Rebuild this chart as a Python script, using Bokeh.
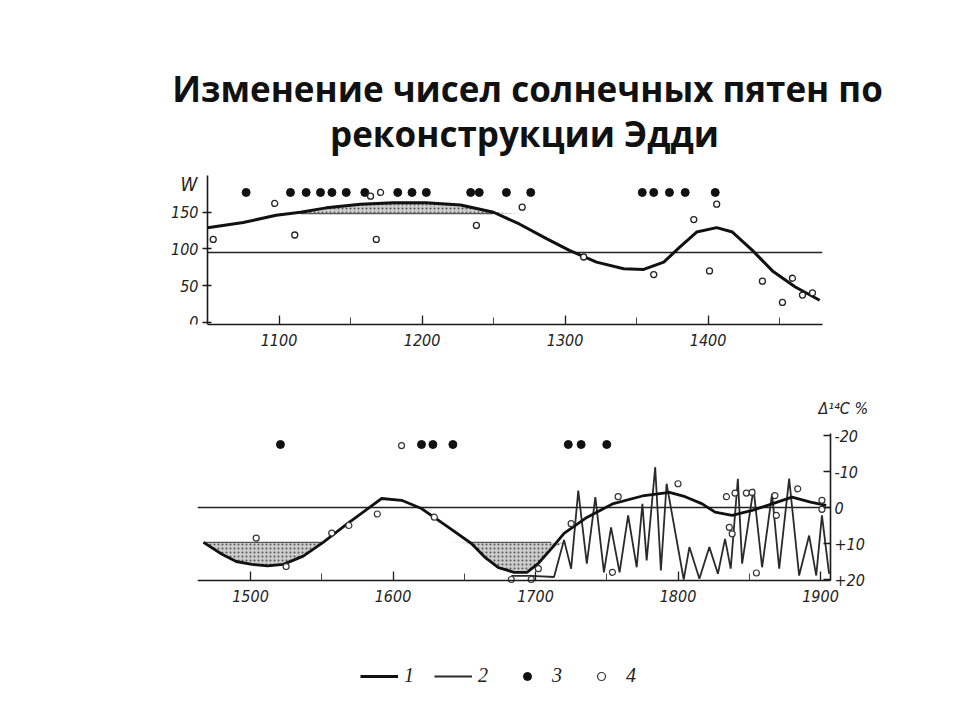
import numpy as np
from bokeh.plotting import figure
from bokeh.models import Range1d, FixedTicker, Legend, LegendItem
from bokeh.embed import file_html
from bokeh.resources import INLINE
from bokeh.core.properties import value

# ---------------- data ----------------
TITLE_LINES = ["Изменение чисел солнечных пятен по", "реконструкции Эдди"]

# top panel (Wolf number W, 1050-1480)
top_years_span = (1050, 1480)
top_curve_years = [1050, 1075, 1098, 1115, 1133, 1157, 1180, 1203, 1227, 1250, 1268, 1287,
                   1303, 1322, 1341, 1355, 1369, 1380, 1392, 1406, 1417, 1431, 1445, 1461, 1478]
top_curve_w = [129, 136, 146, 150, 156, 161, 163, 163, 160, 150, 134, 114,
               98, 82, 73, 72, 82, 102, 123, 129, 123, 98, 70, 48, 30]
top_mean_w = 95
top_shade_base = 148
top_dot_years = [1077, 1108, 1119, 1129, 1137, 1147, 1160, 1183, 1193, 1203, 1234, 1240,
                 1259, 1276, 1354, 1362, 1373, 1384, 1405]
top_dot_w = 177
top_open_years = [1054, 1097, 1111, 1164, 1171, 1168, 1238, 1270, 1313, 1362, 1390, 1401,
                  1406, 1438, 1452, 1459, 1466, 1473]
top_open_w = [113, 162, 119, 172, 177, 113, 132, 157, 89, 65, 140, 70,
              161, 56, 27, 60, 37, 40]
top_xticks = [1100, 1200, 1300, 1400]
top_xminor = [1150, 1250, 1350, 1450]
top_yticks = [0, 50, 100, 150]
top_y_axis_top = 200
top_ylabel = "W"
top_ylabel_w = 188

# bottom panel (delta 14C, inverted axis)
bot_years_span = (1462.8, 1907)
bot_curve_years = [1467, 1480, 1490, 1501, 1512, 1523, 1537, 1551, 1568, 1580, 1592, 1606,
                   1620, 1639, 1655, 1665, 1674, 1685, 1694, 1702, 1711, 1720, 1735, 1754,
                   1775, 1794, 1805, 1817, 1826, 1838, 1852, 1866, 1880, 1893, 1904]
bot_curve_d = [9.7, 13, 15, 15.8, 16.2, 15.8, 13.5, 9.7, 4.5, 1, -2.5, -2,
               0.3, 5.5, 10, 14, 16.7, 18, 18, 15.5, 11.5, 7.2, 3, -1,
               -3.2, -4.2, -3, -1, 1.3, 2.2, 0.8, -1, -2.9, -1.5, -0.6]
bot_shade_base = 9.7
osc_years = [1683, 1697, 1713, 1720, 1725, 1730, 1736, 1742, 1748, 1753, 1759, 1765,
             1771, 1775, 1778, 1784, 1788, 1792, 1804, 1808, 1815, 1822, 1828, 1833,
             1837, 1842, 1845, 1853, 1859, 1866, 1871, 1878, 1885, 1892, 1897, 1901, 1906]
osc_d = [19, 19, 19.3, 9, 17, -4.7, 15.6, -2.9, 18, 5.5, 18, 2.2,
         16.6, -1, 14.7, -11.2, 17.5, -6.6, 20, 11, 19.8, 11, 18.4, 8.7,
         17, -8, 15.6, -5.2, 16.6, -3.8, 17, -8, 18.9, 7.8, 18.9, 2.2, 18.4]
bot_dot_years = [1521, 1620, 1628, 1642, 1723, 1732, 1750]
bot_dot_d = -17.5
bot_open_years = [1504, 1525, 1557, 1569, 1589, 1606, 1629, 1683, 1697, 1702, 1725, 1758,
                  1800, 1754, 1834, 1840, 1848, 1838, 1836, 1852, 1868, 1869, 1884, 1901,
                  1901, 1855]
bot_open_d = [8.5, 16.4, 7.1, 5, 1.8, -17.2, 2.7, 20, 20, 17, 4.5, -3,
              -6.6, 18, -3, -4, -4, 7.3, 5.5, -4.2, -3.3, 2.2, -5.2, -2,
              0.5, 18.2]
bot_xticks = [1500, 1600, 1700, 1800, 1900]
bot_xminor = [1550, 1650, 1750, 1850]
bot_yticks = [-20, -10, 0, 10, 20]
bot_ylabels = {-20: "-20", -10: "-10", 0: "0", 10: "+10", 20: "+20"}
bot_axis_bounds = (-20.6, 20.3)
bot_ylabel = "Δ¹⁴C %"
bot_ylabel_d = -27.5
legend_labels = ["1", "2", "3", "4"]

# ---------------- style ----------------
AXIS_FONT = "Liberation Sans Narrow, DejaVu Sans Condensed, Liberation Sans"
INK = "#1a1a1a"


def style_axis(ax):
    ax.axis_line_color = INK
    ax.axis_line_width = 1.6
    ax.major_tick_line_color = INK
    ax.major_tick_line_width = 1.3
    ax.minor_tick_line_color = "#444444"
    ax.major_label_text_font = AXIS_FONT
    ax.major_label_text_font_style = "italic"
    ax.major_label_text_font_size = "16px"
    ax.major_label_text_color = "#222222"


def bare(p):
    p.xgrid.visible = False
    p.ygrid.visible = False


# ---------------- title (page y 0-162) ----------------
tf = figure(frame_width=960, frame_height=162, x_range=Range1d(0, 960), y_range=Range1d(162, 0),
            toolbar_location=None, output_backend="svg", min_border=0,
            outline_line_color=None, x_axis_location=None, y_axis_location=None)
bare(tf)
tf.text(x=[527, 524], y=[88, 133], text=TITLE_LINES, text_align="center", text_baseline="alphabetic",
        text_font=value("Open Sans"), text_font_style="bold", text_font_size="35px", text_color="#111111")

# ---------------- top panel (page y 162-370) ----------------
# 1050 at page x=207, 1.43 px/year; W=0 at page y=321.7, 0.733 px/unit
tp = figure(frame_width=652, frame_height=162, min_border_left=170, min_border_right=138,
            min_border_top=0, min_border_bottom=46,
            x_range=Range1d(top_years_span[0] - 37 / 1.43, top_years_span[1]),
            y_range=Range1d(-3.1, (321.7 - 162) / 0.733),
            toolbar_location=None, output_backend="svg", outline_line_color=None)
bare(tp)
tp.xaxis.ticker = FixedTicker(ticks=top_xticks, minor_ticks=top_xminor)
tp.yaxis.ticker = FixedTicker(ticks=top_yticks, minor_ticks=[])
for ax in tp.xaxis:
    style_axis(ax)
    ax.bounds = top_years_span
    ax.major_tick_in = 9
    ax.major_tick_out = 0
    ax.minor_tick_in = 7
    ax.minor_tick_out = 0
    ax.major_label_standoff = 9
for ax in tp.yaxis:
    style_axis(ax)
    ax.fixed_location = top_years_span[0]
    ax.bounds = (-3.1, top_y_axis_top)
    ax.major_tick_in = 4
    ax.major_tick_out = 5
    ax.major_label_standoff = 4

tcy = np.array(top_curve_years, dtype=float)
tcw = np.array(top_curve_w, dtype=float)
tp.varea(x=tcy, y1=np.full_like(tcw, top_shade_base), y2=np.maximum(tcw, top_shade_base),
         fill_color="#cccccc", hatch_pattern="dot", hatch_color="#555555", hatch_scale=4, hatch_weight=1)
tp.line(tcy, np.where(tcw >= top_shade_base, top_shade_base, np.nan), line_color="#555555", line_width=1.2)
tp.line(list(top_years_span), [top_mean_w, top_mean_w], line_color="#222222", line_width=1.5)
tp.line(tcy, tcw, line_color="#111111", line_width=3)
tp.scatter(top_dot_years, [top_dot_w] * len(top_dot_years), size=8, color="#111111")
tp.scatter(top_open_years, top_open_w, size=6, fill_color="white", line_color="#222222", line_width=1.3)
tp.text(x=[top_years_span[0]], y=[top_ylabel_w], text=[top_ylabel], x_offset=-10,
        text_align="right", text_baseline="middle", text_font=value(AXIS_FONT),
        text_font_style="italic", text_font_size="19px", text_color="#222222")

# ---------------- bottom panel + legend (page y 370-718) ----------------
# 1500 at page x=250, 1.425 px/year; delta 0 at page y=507, 3.6 px/unit
bp = figure(frame_width=693, frame_height=296, min_border_left=197, min_border_right=70,
            min_border_top=22, min_border_bottom=30,
            x_range=Range1d(bot_years_span[0], bot_years_span[0] + 693 / 1.425),
            y_range=Range1d((688 - 507) / 3.6, (392 - 507) / 3.6),
            y_axis_location="right",
            toolbar_location=None, output_backend="svg", outline_line_color=None)
bare(bp)
bp.xaxis.ticker = FixedTicker(ticks=bot_xticks, minor_ticks=bot_xminor)
bp.yaxis.ticker = FixedTicker(ticks=bot_yticks, minor_ticks=[])
bp.yaxis.major_label_overrides = bot_ylabels
for ax in bp.xaxis:
    style_axis(ax)
    ax.fixed_location = bot_axis_bounds[1]
    ax.bounds = bot_years_span
    ax.major_tick_in = 9
    ax.major_tick_out = 0
    ax.minor_tick_in = 7
    ax.minor_tick_out = 0
    ax.major_label_standoff = 9
for ax in bp.yaxis:
    style_axis(ax)
    ax.fixed_location = bot_years_span[1]
    ax.bounds = bot_axis_bounds
    ax.major_tick_in = 7
    ax.major_tick_out = 0
    ax.major_label_standoff = 4

bcy = np.array(bot_curve_years, dtype=float)
bcd = np.array(bot_curve_d, dtype=float)
bp.varea(x=bcy, y1=np.full_like(bcd, bot_shade_base), y2=np.maximum(bcd, bot_shade_base),
         fill_color="#cccccc", hatch_pattern="dot", hatch_color="#555555", hatch_scale=4, hatch_weight=1)
bp.line(bcy, np.where(bcd >= bot_shade_base, bot_shade_base, np.nan), line_color="#555555", line_width=1.4)
bp.line(list(bot_years_span), [0, 0], line_color="#222222", line_width=1.5)
r_osc = bp.line(osc_years, osc_d, line_color="#2a2a2a", line_width=1.8)
r_curve = bp.line(bcy, bcd, line_color="#111111", line_width=2.8)
r_dots = bp.scatter(bot_dot_years, [bot_dot_d] * len(bot_dot_years), size=8, color="#111111")
r_open = bp.scatter(bot_open_years, bot_open_d, size=6, fill_color="white", line_color="#333333", line_width=1.2)
bp.text(x=[bot_years_span[1]], y=[bot_ylabel_d], text=[bot_ylabel], x_offset=-12,
        text_align="left", text_baseline="middle", text_font=value(AXIS_FONT),
        text_font_style="italic", text_font_size="16px", text_color="#222222")

leg = Legend(items=[LegendItem(label=legend_labels[0], renderers=[r_curve]),
                    LegendItem(label=legend_labels[1], renderers=[r_osc]),
                    LegendItem(label=legend_labels[2], renderers=[r_dots]),
                    LegendItem(label=legend_labels[3], renderers=[r_open])],
             orientation="horizontal", location=(163, 1), border_line_color=None,
             background_fill_alpha=0, glyph_width=38, glyph_height=20, label_standoff=6,
             spacing=10, padding=0, margin=0,
             label_text_font="Liberation Serif", label_text_font_style="italic",
             label_text_font_size="20px", label_text_color="#222222")
bp.add_layout(leg, "center")

open("out.html", "w").write(file_html([tf, tp, bp], INLINE))
